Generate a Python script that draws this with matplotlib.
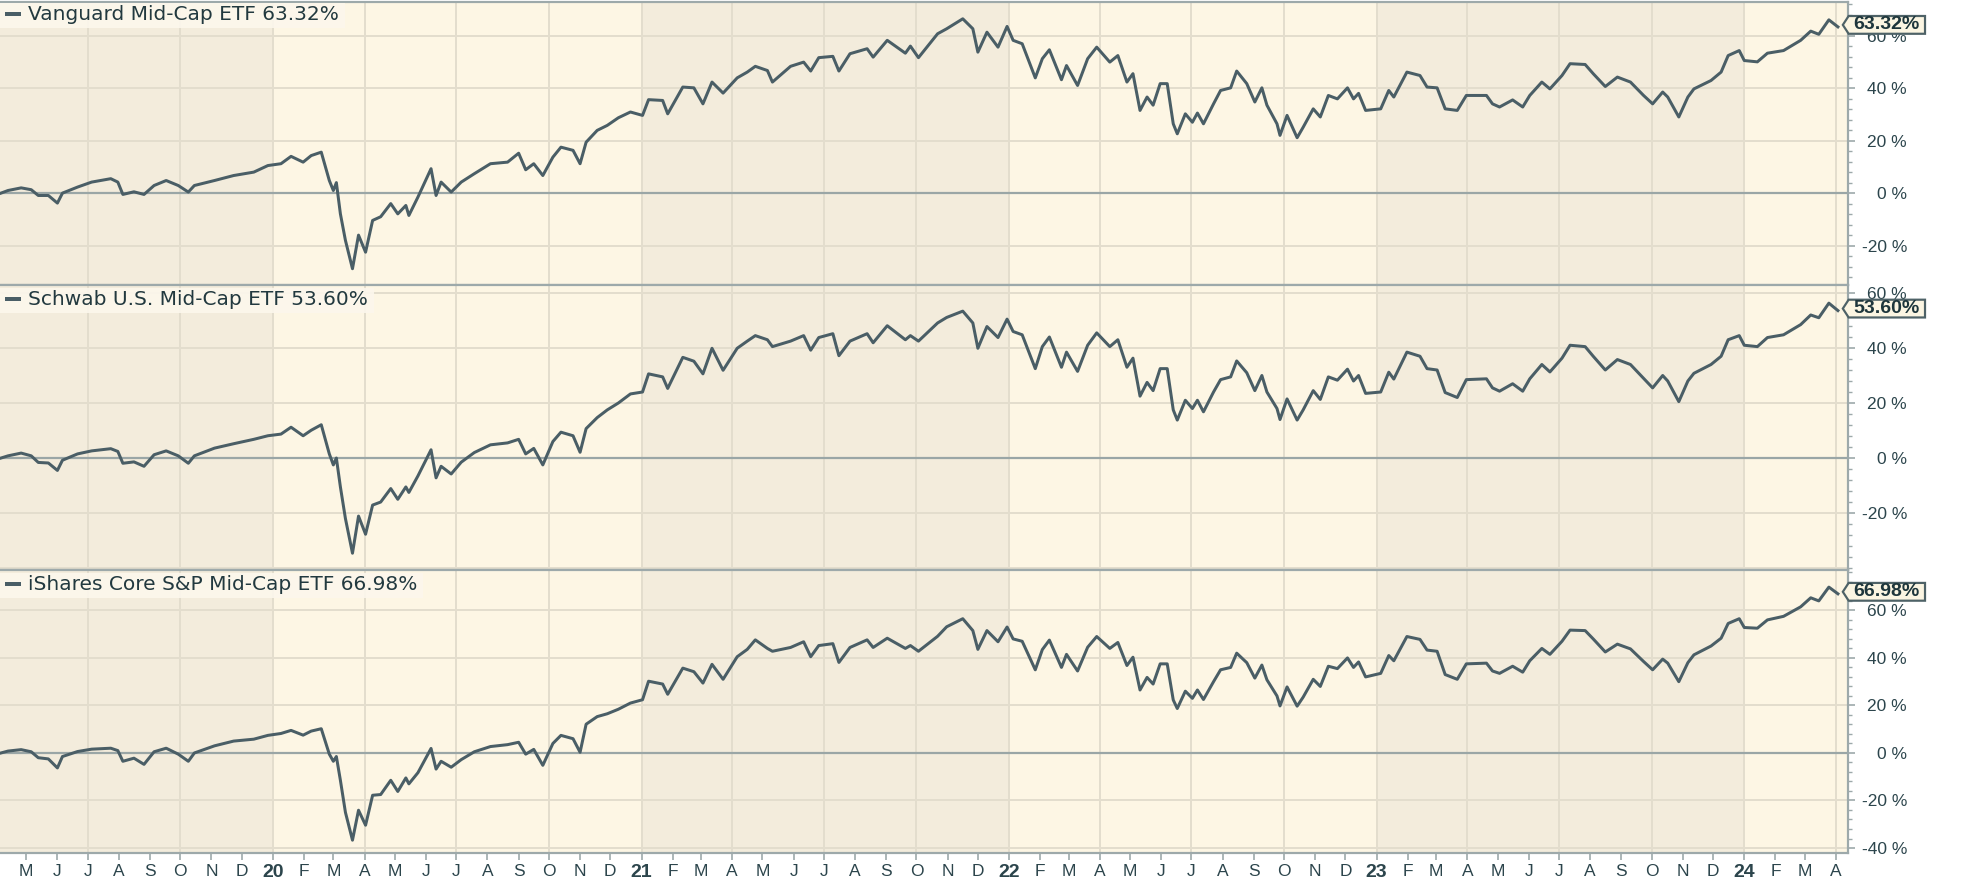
import numpy as np
import pandas as pd
import matplotlib
matplotlib.use("Agg")
import matplotlib.pyplot as plt
from matplotlib.path import Path
from matplotlib.lines import Line2D
from matplotlib.patches import Rectangle
from matplotlib import font_manager

# ---------------- data (percent change since start) ----------------
dates = [
    "2019-04-06", "2019-04-13", "2019-04-26", "2019-05-06", "2019-05-13", "2019-05-23", "2019-06-01", "2019-06-06", "2019-06-21", "2019-07-05",
    "2019-07-24", "2019-07-31", "2019-08-05", "2019-08-16", "2019-08-26", "2019-09-05", "2019-09-17", "2019-09-29", "2019-10-09", "2019-10-15",
    "2019-11-04", "2019-11-23", "2019-12-13", "2019-12-27", "2020-01-09", "2020-01-19", "2020-01-31", "2020-02-08", "2020-02-18", "2020-02-26",
    "2020-03-01", "2020-03-04", "2020-03-08", "2020-03-13", "2020-03-20", "2020-03-26", "2020-04-02", "2020-04-09", "2020-04-17", "2020-04-27",
    "2020-05-04", "2020-05-12", "2020-05-15", "2020-05-24", "2020-06-06", "2020-06-11", "2020-06-16", "2020-06-26", "2020-07-06", "2020-07-19",
    "2020-08-04", "2020-08-21", "2020-09-01", "2020-09-08", "2020-09-16", "2020-09-25", "2020-10-05", "2020-10-13", "2020-10-25", "2020-11-01",
    "2020-11-07", "2020-11-18", "2020-11-28", "2020-12-09", "2020-12-21", "2021-01-02", "2021-01-08", "2021-01-22", "2021-01-27", "2021-02-11",
    "2021-02-22", "2021-03-03", "2021-03-12", "2021-03-23", "2021-04-06", "2021-04-16", "2021-04-24", "2021-05-06", "2021-05-11", "2021-05-29",
    "2021-06-11", "2021-06-18", "2021-06-26", "2021-07-10", "2021-07-16", "2021-07-27", "2021-08-13", "2021-08-19", "2021-09-02", "2021-09-20",
    "2021-09-25", "2021-10-03", "2021-10-22", "2021-10-31", "2021-11-16", "2021-11-26", "2021-12-01", "2021-12-10", "2021-12-21", "2021-12-30",
    "2022-01-05", "2022-01-14", "2022-01-27", "2022-02-03", "2022-02-10", "2022-02-22", "2022-02-27", "2022-03-10", "2022-03-20", "2022-03-29",
    "2022-04-11", "2022-04-19", "2022-04-28", "2022-05-04", "2022-05-11", "2022-05-18", "2022-05-24", "2022-05-31", "2022-06-07", "2022-06-13",
    "2022-06-17", "2022-06-25", "2022-07-02", "2022-07-07", "2022-07-13", "2022-07-23", "2022-07-30", "2022-08-09", "2022-08-15", "2022-08-25",
    "2022-09-02", "2022-09-09", "2022-09-14", "2022-09-24", "2022-09-27", "2022-10-04", "2022-10-14", "2022-10-20", "2022-10-30", "2022-11-06",
    "2022-11-14", "2022-11-23", "2022-12-03", "2022-12-09", "2022-12-14", "2022-12-21", "2023-01-05", "2023-01-13", "2023-01-18", "2023-01-31",
    "2023-02-13", "2023-02-20", "2023-03-02", "2023-03-10", "2023-03-22", "2023-03-31", "2023-04-20", "2023-04-26", "2023-05-03", "2023-05-16",
    "2023-05-26", "2023-06-02", "2023-06-14", "2023-06-22", "2023-07-04", "2023-07-12", "2023-07-27", "2023-08-04", "2023-08-16", "2023-08-28",
    "2023-09-10", "2023-09-23", "2023-10-02", "2023-10-12", "2023-10-17", "2023-10-28", "2023-11-06", "2023-11-12", "2023-11-29", "2023-12-09",
    "2023-12-16", "2023-12-27", "2024-01-01", "2024-01-14", "2024-01-24", "2024-02-09", "2024-02-26", "2024-03-07", "2024-03-15", "2024-03-25",
    "2024-04-03",
]

vanguard = [
    0.0, 1.0, 2.0, 1.3, -0.9, -0.9, -3.8, 0.0, 2.3, 4.2,
    5.5, 4.2, -0.5, 0.5, -0.5, 2.9, 4.8, 2.9, 0.4, 2.9,
    4.8, 6.7, 8.0, 10.5, 11.2, 14.0, 11.8, 14.3, 15.6, 4.8,
    1.0, 4.0, -7.9, -18.0, -28.8, -16.0, -22.5, -10.4, -9.0, -4.0,
    -7.9, -4.7, -8.5, -1.5, 9.3, -0.9, 4.2, 0.4, 4.2, 7.4,
    11.2, 11.8, 15.2, 8.9, 11.2, 6.7, 13.7, 17.5, 16.3, 11.2,
    19.4, 23.9, 25.8, 28.7, 30.9, 29.6, 35.6, 35.3, 30.2, 40.4,
    40.1, 34.0, 42.3, 38.1, 43.9, 46.1, 48.3, 46.7, 42.3, 48.3,
    49.9, 46.5, 51.6, 52.1, 46.5, 53.1, 55.0, 51.8, 58.2, 53.3,
    56.0, 51.6, 60.7, 62.6, 66.4, 62.6, 53.7, 61.3, 55.6, 63.5,
    58.2, 56.9, 43.9, 51.2, 54.6, 43.2, 48.6, 41.0, 51.2, 55.6,
    49.9, 52.4, 42.3, 45.5, 31.5, 36.6, 33.5, 41.7, 41.7, 26.4,
    22.6, 30.2, 27.0, 30.5, 26.4, 34.0, 39.1, 40.1, 46.5, 41.7,
    34.7, 40.1, 33.5, 26.4, 22.0, 29.6, 21.1, 25.1, 32.1, 29.0,
    37.2, 35.9, 40.1, 35.9, 38.0, 31.5, 32.1, 39.1, 36.6, 46.1,
    44.8, 40.4, 40.1, 32.1, 31.5, 37.2, 37.2, 34.0, 32.8, 35.5,
    32.8, 37.2, 42.3, 39.7, 44.8, 49.3, 49.0, 45.5, 40.6, 44.2,
    42.3, 37.2, 34.0, 38.5, 36.6, 29.0, 36.6, 39.7, 42.9, 46.1,
    52.4, 54.3, 50.5, 50.0, 53.3, 54.3, 58.2, 61.7, 60.5, 66.0,
    63.32,
]

schwab = [
    0.0, 0.8, 1.8, 0.8, -1.6, -1.8, -4.5, -0.8, 1.5, 2.6,
    3.4, 2.4, -1.9, -1.4, -3.0, 1.2, 2.6, 0.8, -1.9, 0.8,
    3.6, 5.2, 6.8, 8.1, 8.7, 11.2, 8.1, 10.1, 12.1, 1.5,
    -2.5, 0.0, -10.5, -22.0, -34.6, -21.1, -27.7, -17.1, -16.0, -11.1,
    -15.0, -10.5, -12.5, -6.5, 3.0, -7.2, -3.0, -5.8, -1.5, 2.0,
    4.8, 5.5, 6.8, 1.5, 3.5, -2.5, 6.0, 9.4, 8.1, 2.1,
    10.7, 14.7, 17.5, 20.0, 23.3, 24.0, 30.6, 29.5, 25.3, 36.6,
    35.2, 30.6, 39.9, 31.9, 39.9, 42.5, 44.5, 43.0, 40.5, 42.5,
    44.5, 39.2, 43.8, 45.2, 37.2, 42.5, 45.2, 41.9, 48.1, 43.0,
    44.5, 42.5, 49.1, 51.1, 53.4, 49.1, 39.9, 47.8, 43.8, 50.5,
    46.0, 44.8, 32.5, 40.5, 44.0, 33.0, 38.5, 31.5, 41.0, 45.5,
    40.5, 43.0, 33.0, 36.3, 22.5, 27.5, 24.5, 32.5, 32.5, 17.5,
    13.8, 21.0, 18.0, 21.0, 16.8, 24.0, 28.5, 29.5, 35.3, 31.0,
    24.5, 30.0, 24.0, 18.0, 14.0, 21.5, 13.8, 17.5, 24.5, 21.3,
    29.5, 28.3, 32.3, 28.0, 30.0, 23.5, 24.0, 31.2, 28.7, 38.5,
    37.0, 32.5, 32.0, 23.8, 22.0, 28.5, 28.8, 25.5, 24.3, 27.0,
    24.3, 28.8, 34.0, 31.3, 36.3, 41.0, 40.5, 37.0, 32.0, 35.8,
    34.0, 29.0, 25.5, 30.0, 28.0, 20.5, 28.0, 30.8, 34.0, 37.0,
    43.0, 44.5, 41.0, 40.5, 43.8, 44.8, 48.5, 52.0, 51.0, 56.3,
    53.60,
]

ishares = [
    0.0, 0.8, 1.4, 0.5, -2.0, -2.5, -6.3, -1.5, 0.6, 1.6,
    2.0, 1.0, -3.5, -2.2, -4.8, 0.5, 2.0, -0.5, -3.5, 0.0,
    3.0, 5.0, 5.8, 7.4, 8.2, 9.5, 7.5, 9.2, 10.2, -0.5,
    -3.5, -1.5, -11.5, -25.0, -36.7, -24.1, -30.4, -17.8, -17.5, -11.5,
    -16.2, -10.5, -13.0, -8.3, 1.9, -6.8, -3.5, -6.0, -2.8, 0.5,
    2.7, 3.5, 4.5, -0.5, 1.5, -5.2, 4.0, 7.4, 6.0, 0.3,
    12.1, 15.3, 16.5, 18.4, 21.0, 22.4, 30.2, 29.0, 24.7, 35.7,
    34.2, 29.4, 37.3, 31.0, 40.5, 43.6, 47.6, 44.0, 42.8, 44.4,
    46.8, 40.5, 45.2, 46.0, 38.1, 44.4, 47.6, 44.4, 48.3, 44.0,
    45.2, 42.8, 49.1, 53.1, 56.5, 51.5, 43.6, 51.5, 46.8, 53.0,
    48.0, 47.0, 35.0, 43.5, 47.5, 36.0, 41.5, 34.5, 44.5, 49.0,
    44.0, 46.5, 36.8, 40.3, 26.5, 31.8, 29.0, 37.5, 37.5, 22.3,
    18.7, 26.0, 23.0, 26.5, 22.5, 30.0, 35.0, 36.0, 42.0, 38.0,
    31.5, 37.0, 30.8, 24.0, 19.8, 27.8, 19.7, 23.5, 31.0, 28.0,
    36.5, 35.5, 40.0, 36.0, 38.3, 32.0, 33.5, 41.0, 38.8, 49.0,
    47.8, 43.3, 42.8, 33.0, 31.0, 37.5, 37.8, 34.5, 33.5, 36.5,
    34.0, 38.8, 44.0, 41.5, 47.0, 51.7, 51.5, 48.0, 42.5, 45.8,
    43.8, 38.5, 35.0, 39.5, 37.8, 30.0, 38.0, 41.3, 45.0, 48.3,
    54.5, 56.5, 52.8, 52.5, 56.0, 57.5, 61.5, 65.3, 64.0, 69.8,
    66.98,
]

series_names = ["Vanguard Mid-Cap ETF", "Schwab U.S. Mid-Cap ETF", "iShares Core S&P Mid-Cap ETF"]
end_labels = ["63.32%", "53.60%", "66.98%"]
y_ticks = [[-20, 0, 20, 40, 60], [-20, 0, 20, 40, 60], [-40, -20, 0, 20, 40, 60]]
month_letters = ["J", "F", "M", "A", "M", "J", "J", "A", "S", "O", "N", "D"]

# ---------------- styling ----------------
W, H = 1978, 882
DPI = 100
BG_DARK = "#F3ECDC"
BG_LIGHT = "#FDF6E4"
GRID = "#E3DDCD"
ZERO = "#9AA6A6"
SPINE = "#9DA9AA"
LINE = "#4A5E66"
TXT = "#2C454C"

names_avail = {f.name for f in font_manager.fontManager.ttflist}
TICKFONT = "Liberation Sans" if "Liberation Sans" in names_avail else "DejaVu Sans"


def px2pt(p):
    return p * 72.0 / DPI


fig = plt.figure(figsize=(W / DPI, H / DPI), dpi=DPI, facecolor="white")

panel_px = [(2, 285), (285, 570), (570, 853)]      # top, bottom in pixels
y_limits = [(-35.0, 72.8), (-40.7, 62.9), (-42.1, 77.0)]
ax_right_px = 1848

x = pd.to_datetime(dates)
xmin = pd.Timestamp("2019-04-05")
xmax = pd.Timestamp("2024-04-13")
all_series = [vanguard, schwab, ishares]

quarters = pd.date_range("2019-07-01", "2024-04-01", freq="QS")
months = pd.date_range("2019-05-01", "2024-04-01", freq="MS")
years = [2019, 2020, 2021, 2022, 2023, 2024]


def tag_path(x0, y0, width, height, mutation_size):
    ms = mutation_size
    left = x0 - 0.22 * ms
    right = x0 + width + 0.30 * ms
    bot = y0 - 0.02 * ms
    top = y0 + height + 0.02 * ms
    mid = 0.5 * (bot + top)
    tip = left - 0.30 * ms
    verts = [(left, bot), (right, bot), (right, top), (left, top), (tip, mid), (left, bot)]
    codes = [Path.MOVETO, Path.LINETO, Path.LINETO, Path.LINETO, Path.LINETO, Path.CLOSEPOLY]
    return Path(verts, codes)


axes = []
for i, (vals, (ptop, pbot), ylim) in enumerate(zip(all_series, panel_px, y_limits)):
    ax = fig.add_axes([0, 1 - pbot / H, ax_right_px / W, (pbot - ptop) / H])
    axes.append(ax)

    # alternating yearly shading
    for yr in years:
        s = max(pd.Timestamp(f"{yr}-01-01"), xmin)
        e = min(pd.Timestamp(f"{yr + 1}-01-01"), xmax)
        ax.axvspan(s, e, color=BG_DARK if yr % 2 == 1 else BG_LIGHT, lw=0, zorder=0)

    # grid
    for q in quarters:
        ax.axvline(q, color=GRID, lw=px2pt(2), zorder=1)
    for t in range(-40, 81, 20):
        if t == 0:
            continue
        ax.axhline(t, color=GRID, lw=px2pt(2), zorder=1)
    ax.axhline(0, color=ZERO, lw=px2pt(2.2), zorder=2)

    ax.plot(x, vals, color=LINE, lw=px2pt(3.0), zorder=3, solid_joinstyle="round")

    for sp in ax.spines.values():
        sp.set_color(SPINE)
        sp.set_linewidth(px2pt(2.2))
    ax.spines["left"].set_visible(False)

    # y axis on the right
    ax.yaxis.tick_right()
    ax.set_yticks(y_ticks[i], labels=[f"{t} %" for t in y_ticks[i]])
    ax.set_yticks(np.arange(-40, 81, 4), minor=True)
    ax.tick_params(axis="y", which="major", direction="out", length=5, width=1.2,
                   color=SPINE, labelsize=12.5, labelcolor=TXT, pad=37.5)
    ax.tick_params(axis="y", which="minor", direction="out", length=3, width=1.0, color=SPINE)
    for lbl in ax.get_yticklabels():
        lbl.set_horizontalalignment("right")
        lbl.set_fontfamily(TICKFONT)

    # x axis
    ax.set_xticks(months)
    if i == 2:
        labs = [f"{m.year % 100:02d}" if m.month == 1 else month_letters[m.month - 1] for m in months]
        ax.set_xticklabels(labs)
        ax.tick_params(axis="x", direction="out", length=5, width=1.2, color=SPINE,
                       labelsize=12.5, labelcolor=TXT, pad=3)
        for lbl, m in zip(ax.get_xticklabels(), months):
            lbl.set_fontfamily(TICKFONT)
            if m.month == 1:
                lbl.set_fontweight("bold")
                lbl.set_fontsize(14)
    else:
        ax.tick_params(axis="x", length=0, labelbottom=False)

    # limits last (set_*ticks may expand the view)
    ax.set_xlim(xmin, xmax)
    ax.set_ylim(*ylim)

    # end value tag
    ax.annotate(end_labels[i], xy=(x[-1], vals[-1]), xycoords="data",
                xytext=(15, 2), textcoords="offset pixels", ha="left", va="center",
                fontsize=14, fontweight="bold", color="#1E363C", family=TICKFONT,
                bbox=dict(boxstyle=tag_path, fc="#FBF5E2", ec="#4E6267", lw=px2pt(2.2)),
                annotation_clip=False, zorder=20)

# panel titles (figure-level, drawn above the axes)
fig.canvas.draw()
renderer = fig.canvas.get_renderer()
for i, (ptop, pbot) in enumerate(panel_px):
    ptop_eff = ptop if i > 0 else 0
    yc = ptop_eff + 15
    t = fig.text(28 / W, 1 - yc / H, f"{series_names[i]} {end_labels[i]}",
                 ha="left", va="center", fontsize=14.5, color="#22393F",
                 family="DejaVu Sans", zorder=6)
    bb = t.get_window_extent(renderer=renderer)
    rect = Rectangle((0, 1 - (ptop_eff + 28) / H), (bb.x1 + 6) / W, 25 / H,
                     transform=fig.transFigure, facecolor="#FCF7EC", edgecolor="none",
                     alpha=0.92, zorder=4)
    fig.add_artist(rect)
    fig.add_artist(Line2D([5 / W, 21 / W], [1 - (yc - 1) / H, 1 - (yc - 1) / H],
                          transform=fig.transFigure, color=LINE, lw=px2pt(4),
                          solid_capstyle="butt", zorder=5))

fig.savefig("out.png", dpi=DPI, facecolor="white")
